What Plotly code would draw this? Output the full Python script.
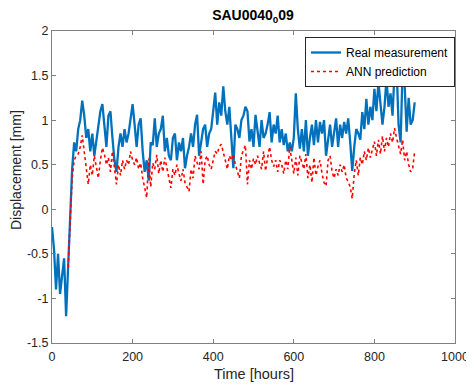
import plotly.graph_objects as go

# ---- data ----
real_t = list(range(0, 905, 5))
real_v = [
    -0.20, -0.45, -0.90, -0.50, -0.95, -0.75, -0.55, -1.20, -0.60, -0.15,
    0.45, 0.75, 0.65, 0.90, 1.00, 1.22, 1.05, 0.80, 0.90, 0.65,
    0.85, 0.60, 0.75, 0.90, 1.10, 1.18, 0.95, 0.70, 1.05, 1.10,
    0.80, 0.55, 0.42, 0.70, 0.85, 0.70, 0.90, 0.75, 0.85, 1.05,
    1.18, 0.95, 0.70, 0.95, 1.02, 0.65, 0.42, 0.55, 0.32, 0.75,
    0.72, 1.02, 0.70, 0.85, 0.90, 1.05, 0.65, 0.80, 0.60, 0.55,
    0.80, 0.85, 0.55, 0.75, 0.65, 0.80, 0.46, 0.60, 0.70, 0.85,
    0.70, 0.95, 1.06, 0.60, 0.75, 0.90, 0.95, 0.70, 0.85, 0.90,
    1.10, 1.31, 0.95, 1.20, 1.05, 1.38, 1.10, 0.95, 1.15, 0.75,
    0.46, 0.95, 0.90, 0.80, 1.00, 1.05, 1.15, 1.10, 0.76, 0.90,
    0.70, 1.06, 0.85, 0.70, 1.00, 0.80, 0.85, 0.95, 1.09, 0.75,
    0.95, 0.85, 1.05, 0.75, 0.90, 0.72, 0.85, 0.65, 0.75, 0.65,
    0.80, 1.30, 0.90, 0.68, 0.90, 0.65, 1.00, 0.60, 0.80, 0.95,
    0.72, 1.00, 0.75, 0.98, 0.85, 1.00, 0.60, 0.78, 0.95, 0.70,
    0.88, 1.02, 0.70, 0.95, 0.80, 0.98, 0.85, 1.02, 0.75, 0.43,
    0.70, 0.90, 0.85, 0.78, 1.09, 0.90, 1.24, 0.95, 1.15, 1.00,
    1.35, 1.10, 1.43, 1.20, 0.95, 1.15, 1.46, 1.15, 1.30, 1.05,
    1.55, 1.60, 0.95, 0.75, 1.58, 1.40, 0.87, 1.25, 0.95, 1.00,
    1.20,
]

ann_t = list(range(40, 905, 5))
ann_v = [
    -0.65, -0.15, 0.35, 0.55, 0.60, 0.62, 0.70, 0.83, 0.65, 0.45,
    0.28, 0.50, 0.38, 0.60, 0.45, 0.35, 0.55, 0.69, 0.62, 0.50,
    0.58, 0.42, 0.65, 0.45, 0.28, 0.50, 0.38, 0.55, 0.45, 0.55,
    0.50, 0.65, 0.55, 0.50, 0.58, 0.45, 0.52, 0.35, 0.25, 0.13,
    0.57, 0.25, 0.52, 0.45, 0.61, 0.40, 0.55, 0.42, 0.58, 0.45,
    0.35, 0.24, 0.45, 0.38, 0.50, 0.40, 0.32, 0.45, 0.30, 0.25,
    0.20, 0.45, 0.35, 0.60, 0.52, 0.45, 0.65, 0.28, 0.55, 0.60,
    0.50, 0.45, 0.55, 0.65, 0.62, 0.70, 0.73, 0.65, 0.55, 0.45,
    0.60, 0.55, 0.62, 0.50, 0.42, 0.35, 0.60, 0.65, 0.72, 0.28,
    0.55, 0.45, 0.57, 0.50, 0.60, 0.52, 0.45, 0.65, 0.43, 0.58,
    0.70, 0.55, 0.48, 0.55, 0.42, 0.55, 0.50, 0.40, 0.55, 0.45,
    0.70, 0.55, 0.40, 0.58, 0.38, 0.60, 0.52, 0.45, 0.62, 0.35,
    0.50, 0.30, 0.58, 0.38, 0.48, 0.55, 0.40, 0.30, 0.26, 0.55,
    0.60, 0.42, 0.35, 0.45, 0.38, 0.50, 0.42, 0.50, 0.35, 0.31,
    0.25, 0.12, 0.40, 0.55, 0.38, 0.58, 0.50, 0.65, 0.55, 0.69,
    0.58, 0.66, 0.76, 0.60, 0.78, 0.62, 0.82, 0.65, 0.80, 0.70,
    0.85, 0.75, 0.91, 0.80, 0.70, 0.62, 0.78, 0.55, 0.65, 0.50,
    0.42, 0.46, 0.65,
]

x_ticks = [0, 200, 400, 600, 800, 1000]
x_tick_labels = ["0", "200", "400", "600", "800", "1000"]
y_ticks = [-1.5, -1, -0.5, 0, 0.5, 1, 1.5, 2]
y_tick_labels = ["-1.5", "-1", "-0.5", "0", "0.5", "1", "1.5", "2"]

FONT = "Arial, Liberation Sans, Helvetica, sans-serif"
AXC = "#808080"
TXT = "#262626"

# the page body has an 8px default margin, so the figure is sized/placed to compensate
W, H = 466, 378

fig = go.Figure()
fig.add_trace(go.Scatter(x=real_t, y=real_v, mode="lines", name="Real measurement",
                         line=dict(color="#0072BD", width=2.3)))
fig.add_trace(go.Scatter(x=ann_t, y=ann_v, mode="lines", name="ANN prediction",
                         line=dict(color="#FF0000", width=1.6, dash="dot")))

axis_common = dict(showline=True, linecolor=AXC, linewidth=1, mirror="allticks",
                   ticks="inside", ticklen=4, tickcolor=AXC, showgrid=False,
                   zeroline=False, automargin=False,
                   tickfont=dict(family=FONT, size=12.5, color=TXT))

fig.update_layout(
    width=W, height=H,
    margin=dict(l=44, r=19, t=23, b=43, autoexpand=False),
    paper_bgcolor="white", plot_bgcolor="white",
    font=dict(family=FONT, color=TXT),
    title=dict(text="<b>SAU0040<sub>0</sub>09</b>", x=(253 - 8) / W, xanchor="center",
               y=1 - (15 - 8) / H, yanchor="middle", yref="container",
               font=dict(family=FONT, size=14, color="#000000")),
    xaxis=dict(range=[0, 1000], tickvals=x_ticks, ticktext=x_tick_labels,
               ticklabelstandoff=2, **axis_common),
    yaxis=dict(range=[-1.5, 2], tickvals=y_ticks, ticktext=y_tick_labels,
               **axis_common),
    showlegend=True,
    legend=dict(x=1.0, xanchor="right", y=(343 - 37) / 312, yanchor="top",
                bgcolor="white", bordercolor="#262626", borderwidth=1,
                font=dict(family=FONT, size=12, color="#000000"),
                itemwidth=30, tracegroupgap=0),
)

fig.add_annotation(text="Time [hours]", xref="paper", yref="paper",
                   x=0.5, y=-(374 - 343) / 312, xanchor="center", yanchor="middle",
                   showarrow=False, font=dict(family=FONT, size=14.5, color=TXT))
fig.add_annotation(text="Displacement [mm]", textangle=-90, xref="paper", yref="paper",
                   x=-36 / 403, y=(343 - 170) / 312, xanchor="center", yanchor="middle",
                   showarrow=False, font=dict(family=FONT, size=14, color=TXT))

fig.write_html("out.html")
